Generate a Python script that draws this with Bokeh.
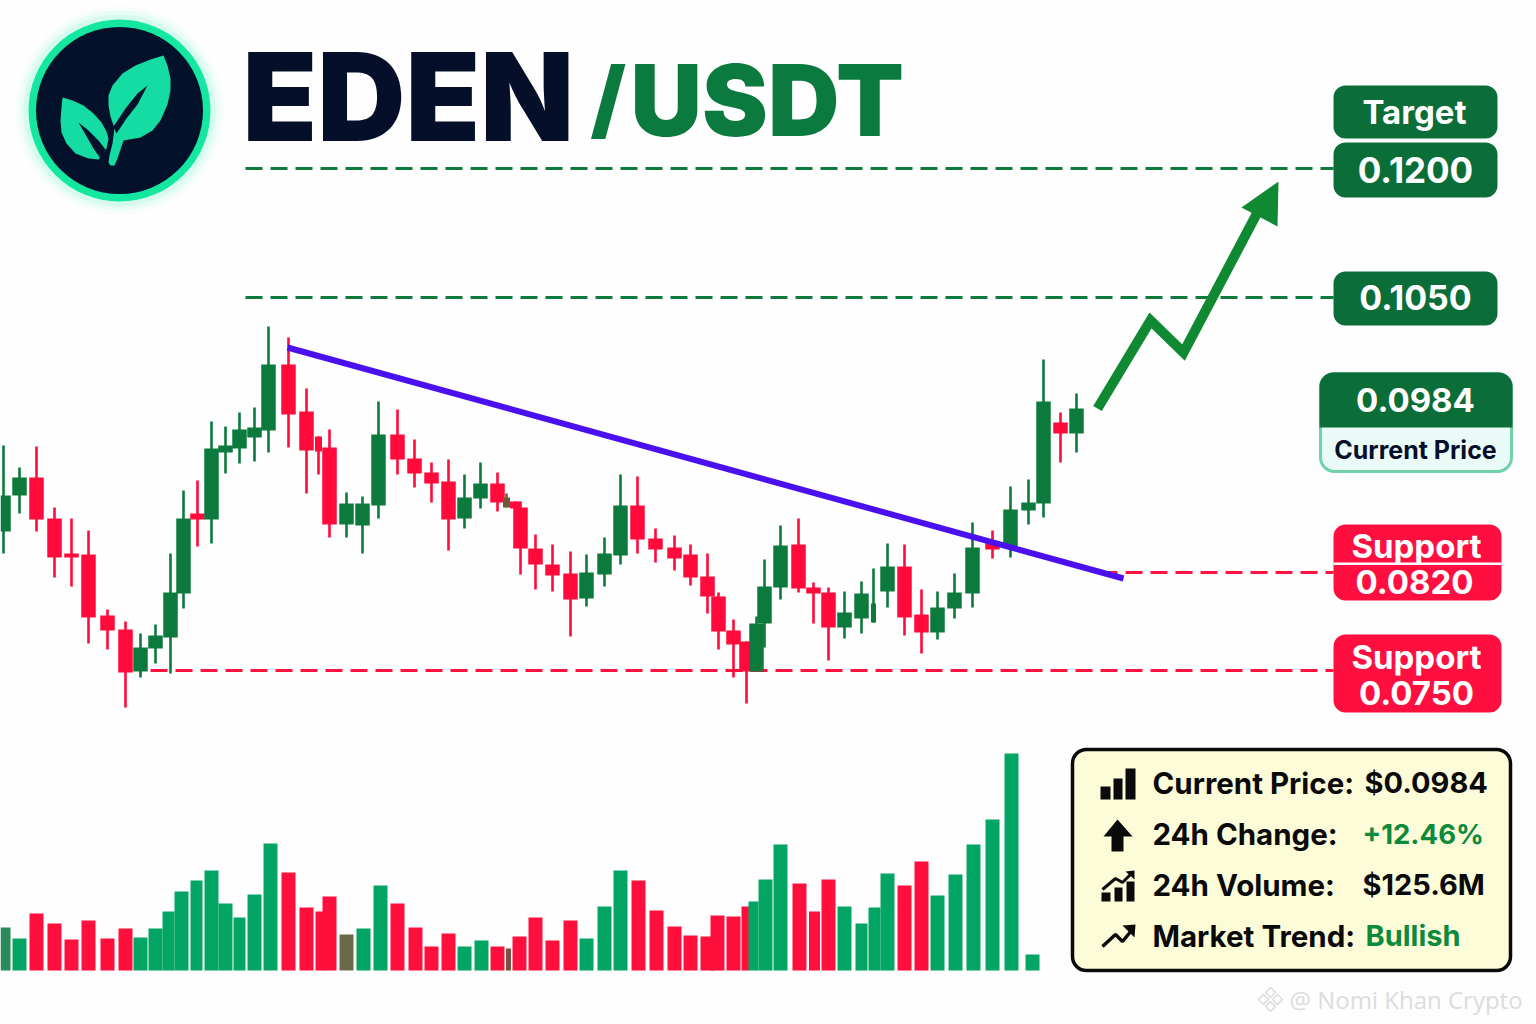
from bokeh.plotting import figure
from bokeh.models import Range1d
from bokeh.core.properties import value
from bokeh.embed import file_html
from bokeh.resources import INLINE

# ---------- data ----------
candle_t = [3,19,36,54,71,88,107,125,140,155,170,183,197,211,225,239,254,268,288,306,318,329,346,362,378,
            397,414,431,448,464,480,497,506,515,520,535,552,570,586,604,620,637,655,674,690,707,718,733,746,756,
            764,780,798,813,828,844,861,873,887,904,921,937,954,972,992,1010,1028,1043,1060,1076]
# prices in 1/100000 USDT
candle_open = [8612,8900,9044,8716,8436,8428,7940,7828,7492,7676,7764,8116,8756,8708,9244,9276,9364,9420,9948,9572,
               9372,9284,8668,8660,8820,9388,9196,9084,9012,8716,8876,8996,8804,8852,8804,8476,8348,8276,8076,8268,
               8420,8820,8556,8484,8428,8252,8092,7820,7732,7492,7876,8164,8508,8164,8124,7844,7916,7884,8132,8332,
               7948,7804,7996,8116,8524,8492,8780,8836,9484,9396]
candle_high = [9300,9124,9292,8804,8716,8620,7988,7892,7796,7868,8436,8940,9020,9492,9452,9564,9604,10252,10164,9756,
               9372,9428,8924,8892,9652,9588,9348,9164,9188,9068,9164,9084,8916,8852,8852,8588,8508,8452,8428,8564,
               9068,9052,8636,8580,8508,8436,8124,7908,7732,7932,8388,8660,8716,8204,8164,8132,8212,8316,8516,8508,
               8148,8132,8276,8684,8620,8972,9028,9988,9564,9716]
candle_low = [8436,8756,8612,8244,8172,7716,7668,7204,7444,7556,7476,7996,8492,8516,9076,9156,9172,9244,9284,8916,
              9068,8564,8564,8436,8716,9068,8964,8844,8460,8636,8796,8772,8804,8716,8268,8148,8132,7772,8012,8172,
              8348,8436,8364,8300,8180,7956,7668,7444,7236,7492,7684,8068,8124,7876,7580,7756,7796,7884,8004,7780,
              7636,7748,7916,8004,8396,8404,8668,8724,9164,9244]
candle_close = [8900,9044,8708,8404,8404,7924,7820,7484,7684,7780,8124,8716,8708,9276,9300,9428,9444,9948,9548,9260,
                9252,8668,8836,8836,9388,9188,9076,8996,8708,8884,8996,8844,8884,8796,8476,8348,8260,8068,8284,8436,
                8820,8548,8468,8396,8244,8092,7812,7708,7492,7876,8172,8500,8156,8116,7844,7964,8116,8036,8332,7924,
                7804,8004,8124,8484,8468,8788,8844,9652,9396,9596]
narrow_candles = {20: 7, 32: 7, 33: 11, 57: 5}
muddy_candles = {32: "#6e5a3c"}

volume_t = [3,19,36,54,71,88,107,125,140,155,168,181,196,211,225,239,254,270,288,306,319,329,346,363,380,
            397,415,431,448,464,481,497,508,519,535,552,570,586,604,620,638,656,674,690,707,717,733,745,753,765,
            780,799,814,828,844,861,874,887,904,921,937,955,973,992,1011,1032]
volume = [43,32,57,47,31,50,32,42,33,42,59,79,90,100,67,53,76,127,98,63,59,74,36,42,85,
          67,43,24,37,24,30,24,22,34,53,30,50,32,64,100,90,60,44,35,34,55,54,64,69,91,
          126,87,59,91,64,47,63,97,85,109,75,96,126,151,217,16]
volume_side = list("ng" "rrrrrr" "gggggggggg" "rrrr" "m" "gg" "rrrr" "gg" "r" "b" "rrrr" "ggg" "rrrrrrrr"
                   "ggg" "rrr" "gggg" "rr" "gggggg")
volume_w = {20: 8, 32: 5, 47: 8, 48: 10, 10: 12, 12: 12, 15: 12, 52: 11, 55: 12, 56: 12}

level_labels = ["0.1200", "0.1050", "0.0820", "0.0750"]
level_pos = [0.11516, 0.10484, 0.08284, 0.07500]
level_from = [245, 245, 1100, 150]
level_to = [1333, 1333, 1333, 1333]
level_col = ["#0e7a3e", "#0e7a3e", "#ff1240", "#ff1240"]

trend_t = [287, 1123]
trend_price = [0.10084, 0.08236]

arrow_t = [1097, 1150, 1183, 1258]
arrow_price = [0.09596, 0.10300, 0.10044, 0.11180]

info_keys = ["Current Price:", "24h Change:", "24h Volume:", "Market Trend:"]
info_vals = ["$0.0984", "+12.46%", "$125.6M", "Bullish"]

GREEN = "#0b7a3c"; RED = "#ff0a3a"
VGREEN = "#02a563"; VRED = "#ff0f3c"; DARK = "#060f2a"
FONT = value("Inter")

p = figure(width=1536, height=1024, output_backend="svg", toolbar_location=None,
           x_range=Range1d(0, 1536), y_range=Range1d(1024, 0),
           min_border=0, outline_line_color=None, background_fill_color="#fefefe",
           border_fill_color="#fefefe")
p.axis.visible = False
p.grid.visible = False
p.extra_x_ranges = {"t": Range1d(0, 1536)}
p.extra_y_ranges = {"price": Range1d(0.04668, 0.12860), "vol": Range1d(-54, 970)}
ts = dict(x_range_name="t", y_range_name="price")
tv = dict(x_range_name="t", y_range_name="vol")

# volume
vcol = {"g": VGREEN, "r": VRED, "m": "#6a6a48", "b": "#7a5040", "n": "#2a8a5c"}
p.vbar(x=volume_t, top=volume, bottom=0, width=[volume_w.get(i, 14) for i in range(len(volume))],
       color=[vcol[s] for s in volume_side], line_color=None, **tv)

# level lines
for lv, a, b, c in zip(level_pos, level_from, level_to, level_col):
    p.line([a, b], [lv, lv], line_color=c, line_width=3, line_dash="17 8", **ts)

# candles
for i, t in enumerate(candle_t):
    o, h, l, c = candle_open[i]/1e5, candle_high[i]/1e5, candle_low[i]/1e5, candle_close[i]/1e5
    col = muddy_candles.get(i, GREEN if c > o else RED)
    p.segment([t], [h], [t], [l], line_color=col, line_width=2.6, **ts)
    p.vbar(x=[t], top=[max(o, c)], bottom=[min(o, c)], width=narrow_candles.get(i, 14.5),
           fill_color=col, line_color=None, **ts)

# trend line and arrow
p.line(trend_t, trend_price, line_color="#4b10f0", line_width=6, **ts)
p.line(arrow_t, arrow_price, line_color="#0f8a33", line_width=10, line_join="miter", **ts)
p.patch([1278, 1241, 1277], [181, 207, 226], fill_color="#0f8a33", line_color=None)

# logo
for r, a in [(104, .05), (100, .08), (96, .14)]:
    p.circle([119], [110], radius=r, fill_color="#5ff0c4", fill_alpha=a, line_color=None)
p.circle([119], [110], radius=91, fill_color="#14e8a0", line_color=None)
p.circle([119], [110], radius=83.5, fill_color="#03112b", line_color=None)
LEAF = "#14dca2"
big = ([163,150,135,122,112,108,108,110,114,112,109,108,110,114,117,123,140,152,160,167,170,170,167,163],
       [55,59,65,73,85,95,105,116,128,143,155,162,165,165,158,140,137,130,120,104,90,78,65,55])
small = ([62,72,83,93,101,106,108,106,98,88,75,66,61,60,61,62],
         [97,100,105,113,122,131,138,148,159,158,153,143,132,120,107,97])
p.patch(*small, fill_color=LEAF, line_color=None)
p.patch(*big, fill_color=LEAF, line_color=None)
p.patch([147,137,125,113,116,126,137], [85,93,108,126,133,118,104], fill_color="#03112b", line_color=None)
p.patch([78,88,98,105,100,93,85], [122,130,140,149,158,148,134], fill_color="#03112b", line_color=None)

# title
p.text([242], [96], text=["EDEN"], text_font=value("Inter Black"), text_font_size="122px",
       text_color=DARK, text_baseline="middle", text_align="left")
p.text([590], [98], text=["/"], text_font=value("Inter Black"), text_font_size="86px",
       text_color="#0b7a3e", text_baseline="middle", text_align="left")
p.text([630], [99], text=["USDT"], text_font=value("Inter Black"), text_font_size="99px",
       text_color="#0b7a3e", text_baseline="middle", text_align="left")

# badges
def badge(l, r, t, b, fill, rad=12, line=None, lw=0):
    p.quad(left=[l], right=[r], top=[t], bottom=[b], fill_color=fill, border_radius=rad,
           line_color=line, line_width=lw)

def label(x, y, s, col="white", size=35, align="center", font=FONT):
    p.text([x], [y], text=[s], text_font=font, text_font_style="bold", text_font_size=f"{size}px",
           text_color=col, text_align=align, text_baseline="middle")

BADGE = "#0b6e39"
badge(1333, 1497, 85, 138, BADGE)
badge(1333, 1497, 142, 197, BADGE)
badge(1333, 1497, 271, 325, BADGE)
badge(1320, 1511, 373, 471, "#eafaf6", 14, "#6fd2a8", 3)
p.quad(left=[1319], right=[1512], top=[372], bottom=[427], fill_color="#0b6e39", line_color=None,
       border_radius=dict(top_left=14, top_right=14, bottom_right=0, bottom_left=0))
badge(1333, 1501, 524, 600, "#ff0f3f")
p.quad(left=[1333], right=[1501], top=[562], bottom=[564.5], fill_color="white", line_color=None)
badge(1333, 1501, 634, 712, "#ff0f3f")

label(1414, 111, "Target", size=33)
label(1415, 169, level_labels[0], size=35)
label(1415, 297, level_labels[1], size=34)
label(1415, 399, "0.0984", size=33)
label(1415, 449, "Current Price", col=DARK, size=25)
label(1416, 545, "Support", size=33)
label(1414, 581, level_labels[2], size=33)
label(1416, 656, "Support", size=33)
label(1416, 692, level_labels[3], size=33)

# info panel
badge(1072, 1510, 749, 970, "#fdfcd8", 14, "#0a0a0a", 3.5)
ys = [782, 833, 884, 935]
val_x = [1364, 1362, 1362, 1365]
val_c = ["#0a0a0a", "#0d8a3c", "#0a0a0a", "#0d8a3c"]
val_s = [29, 27.5, 29, 29]
for y, k, v, vx, vc, vs in zip(ys, info_keys, info_vals, val_x, val_c, val_s):
    label(1152, y, k, col="#0a0a0a", size=29.5, align="left")
    label(vx, y, v, col=vc, size=vs, align="left")

# icons
ICON = "#0a0a0a"
p.quad(left=[1100, 1113, 1125], right=[1110, 1122, 1135], top=[786, 778, 768], bottom=[799, 799, 799],
       fill_color=ICON, line_color=None)
p.patch([1117, 1132, 1123, 1123, 1111, 1111, 1103], [819, 836, 836, 851, 851, 836, 836], fill_color=ICON, line_color=None)
p.quad(left=[1101, 1114, 1126], right=[1110, 1122, 1134], top=[892, 887, 881], bottom=[901, 901, 901],
       fill_color=ICON, line_color=None)
p.line([1102, 1115, 1122, 1131], [889, 878, 882, 873], line_color=ICON, line_width=3)
p.patch([1134, 1125, 1134], [870, 871, 879], fill_color=ICON, line_color=None)
p.line([1102, 1115, 1122, 1131], [946, 934, 941, 930], line_color=ICON, line_width=3.5)
p.patch([1135, 1122, 1134], [924, 925, 937], fill_color=ICON, line_color=None)

# watermark
WM = "#dcdcdc"
for cx, cy in [(1270, 992), (1263, 999), (1277, 999), (1270, 1006)]:
    p.patch([cx, cx+5, cx, cx-5], [cy-5, cy, cy+5, cy], fill_color=None, line_color=WM, line_width=1.6)
p.text([1289], [999], text=["@ Nomi Khan Crypto"], text_font=value("Open Sans"), text_font_size="24px",
       text_color=WM, text_baseline="middle", text_align="left")

open("out.html", "w").write(file_html(p, INLINE))
